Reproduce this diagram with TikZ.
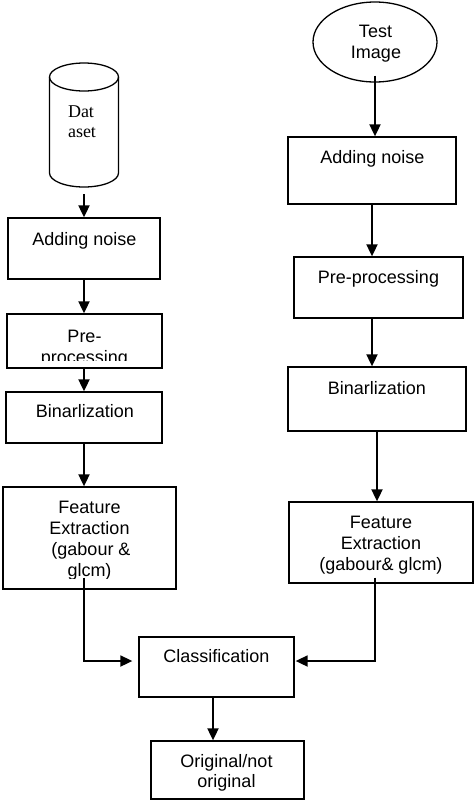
\documentclass[tikz,border=0pt]{standalone}
\usepackage{fontspec}
\setmainfont{Liberation Sans}
\newfontfamily\serifface{Liberation Serif}
\usetikzlibrary{arrows.meta,shapes.geometric}
\begin{document}
\begin{tikzpicture}[x=1pt,y=-1pt,
  box/.style={draw, line width=1.3pt, inner sep=0pt},
  txt/.style={anchor=base, inner sep=0pt, font=\fontsize{18}{21}\selectfont},
  arr/.style={line width=1.8pt, -{Triangle[length=12pt,width=11pt]}},
  conn/.style={line width=1.8pt}]
\useasboundingbox (0,0) rectangle (474,801);

% ---------- left column ----------
\draw[line width=1.3pt] (84,77) ellipse [x radius=34.5, y radius=14];
\draw[line width=1.3pt] (49.5,77) -- (49.5,173)
  .. controls (49.5,180.73) and (64.95,187) .. (84,187)
  .. controls (103.05,187) and (118.5,180.73) .. (118.5,173) -- (118.5,77);
\coordinate (dsb) at (84,194);
\node[txt, font=\fontsize{18}{21}\serifface] at (81,117) {Dat};
\node[txt, font=\fontsize{18}{21}\serifface] at (82,137) {aset};

\node[box, minimum width=152, minimum height=61] (an1) at (84,248.5) {};
\node[txt] at (84.5,245) {Adding noise};

\node[box, minimum width=155, minimum height=54] (pp1) at (84.5,341) {};
\node[txt] at (84.5,342) {Pre-};
\begin{scope}
  \clip (0,0) rectangle (474,360);
  \node[txt] at (84.5,363) {processing};
\end{scope}

\node[box, minimum width=156, minimum height=51] (bin1) at (84,417.5) {};
\node[txt] at (85,417) {Binarlization};

\node[box, minimum width=173, minimum height=102] (fe1) at (89.5,538) {};
\node[txt] at (89.5,513) {Feature};
\node[txt] at (89.5,534) {Extraction};
\node[txt] at (91,555) {(gabour \&};
\begin{scope}
  \clip (0,0) rectangle (474,578.5);
  \node[txt] at (89.5,576) {glcm)};
\end{scope}

% ---------- right column ----------
\node[draw, ellipse, line width=1.3pt, minimum width=124, minimum height=80, inner sep=0pt] (ti) at (375,42) {};
\node[txt] at (375.5,37) {Test};
\node[txt] at (376,58) {Image};

\node[box, minimum width=168, minimum height=67] (an2) at (372,170.5) {};
\node[txt] at (372.5,163) {Adding noise};

\node[box, minimum width=169, minimum height=61] (pp2) at (378.5,287.5) {};
\node[txt] at (378.5,283) {Pre-processing};

\node[box, minimum width=178, minimum height=64] (bin2) at (377,399) {};
\node[txt] at (377,394) {Binarlization};

\node[box, minimum width=184, minimum height=81] (fe2) at (381,542.5) {};
\node[txt] at (381,528) {Feature};
\node[txt] at (381,549) {Extraction};
\begin{scope}
  \clip (0,0) rectangle (474,573);
  \node[txt] at (381,570) {(gabour\& glcm)};
\end{scope}

% ---------- bottom ----------
\node[box, minimum width=155, minimum height=60] (cls) at (216.5,667) {};
\node[txt] at (216.5,662) {Classification};

\node[box, minimum width=153, minimum height=58] (orig) at (227.5,770) {};
\node[txt] at (226.5,767) {Original/not};
\node[txt] at (226.5,787) {original};

% ---------- connectors ----------
\draw[arr] (dsb) -- (dsb |- an1.north);
\draw[arr] (an1.south) -- (an1.south |- pp1.north);
\draw[arr] (an1.south |- pp1.south) -- (an1.south |- bin1.north);
\draw[arr] (bin1.south) -- (bin1.south |- fe1.north);
\draw[arr] ([xshift=-5.5pt,yshift=12pt]fe1.south) |- ([xshift=-6pt,yshift=6pt]cls.west);

\draw[arr] ([yshift=7pt]ti.south) -- (ti.south |- an2.north);
\draw[arr] (an2.south) -- (an2.south |- pp2.north);
\draw[arr] (an2.south |- pp2.south) -- (an2.south |- bin2.north);
\draw[arr] (bin2.south) -- (bin2.south |- fe2.north);
\draw[arr] ([xshift=-6pt,yshift=6pt]fe2.south) |- ([xshift=1pt,yshift=6pt]cls.east);

\draw[arr] ([xshift=-3.5pt]cls.south) -- ([xshift=-3.5pt]cls.south |- orig.north);
\end{tikzpicture}
\end{document}
